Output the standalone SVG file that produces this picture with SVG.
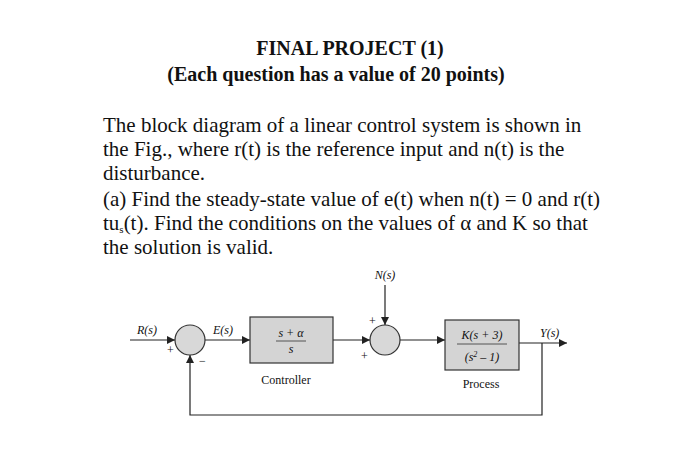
<svg xmlns="http://www.w3.org/2000/svg" width="700" height="467" viewBox="0 0 700 467">
<defs><marker id="a" viewBox="0 0 10 10" refX="10" refY="5" markerWidth="8" markerHeight="8" orient="auto" markerUnits="userSpaceOnUse"><path d="M0,0L10,5L0,10z" fill="#222"/></marker></defs>
<style>
.t{font-family:"Liberation Serif",serif;fill:#111}
.h{font-size:20px;font-weight:bold;text-anchor:middle}
.p{font-size:21px}
.s{font-size:12px}
.i{font-size:12px;font-style:italic}
.b{fill:#d4d4d4;stroke:#333;stroke-width:1.2}
.c{fill:#d8d8d8;stroke:#333;stroke-width:1.2}
.l{fill:none;stroke:#222;stroke-width:1.2}
</style>
<rect width="700" height="467" fill="#fff"/>
<text class="t h" x="350" y="55">FINAL PROJECT (1)</text>
<text class="t h" x="336" y="81">(Each question has a value of 20 points)</text>
<text class="t p" x="103" y="132">The block diagram of a linear control system is shown in</text>
<text class="t p" x="103" y="156">the Fig., where r(t) is the reference input and n(t) is the</text>
<text class="t p" x="103" y="180">disturbance.</text>
<text class="t p" x="103" y="206">(a) Find the steady-state value of e(t) when n(t) = 0 and r(t)</text>
<text class="t p" x="103" y="230">tu<tspan font-size="11" dy="3">s</tspan><tspan dy="-3">(t). Find the conditions on the values of α and K so that</tspan></text>
<text class="t p" x="103" y="254">the solution is valid.</text>
<g id="connectors">
<path class="l" d="M130,340H175" marker-end="url(#a)"/>
<path class="l" d="M205,340H250" marker-end="url(#a)"/>
<path class="l" d="M333,340H370" marker-end="url(#a)"/>
<path class="l" d="M385,285V325" marker-end="url(#a)"/>
<path class="l" d="M400,340H445" marker-end="url(#a)"/>
<path class="l" d="M519,343H567" marker-end="url(#a)"/>
<path class="l" d="M542,343V415H190V355" marker-end="url(#a)"/>
</g>
<g id="sum1"><circle class="c" cx="190" cy="340" r="15"/><text class="t s" x="167" y="354">+</text><text class="t s" x="199" y="365">−</text></g>
<g id="controller"><rect class="b" x="250" y="317" width="83" height="46"/><text class="t i" x="291" y="337" text-anchor="middle">s + α</text><line x1="276" y1="341" x2="306" y2="341" stroke="#333" stroke-width="0.8"/><text class="t i" x="291" y="353" text-anchor="middle">s</text><text class="t s" x="286" y="384" text-anchor="middle" font-size="13">Controller</text></g>
<g id="sum2"><circle class="c" cx="385" cy="340" r="15"/><text class="t s" x="369" y="325">+</text><text class="t s" x="361" y="360">+</text></g>
<g id="process"><rect class="b" x="445" y="320" width="74" height="50"/><text class="t i" x="482" y="339" text-anchor="middle">K(s + 3)</text><line x1="457" y1="344" x2="507" y2="344" stroke="#333" stroke-width="0.8"/><text class="t i" x="482" y="361" text-anchor="middle">(s<tspan font-size="8" dy="-4">2</tspan><tspan dy="4"> – 1)</tspan></text><text class="t s" x="481" y="388" text-anchor="middle" font-size="13">Process</text></g>
<g id="labels"><text class="t i" x="137" y="334">R(s)</text><text class="t i" x="213" y="334">E(s)</text><text class="t i" x="385" y="279" text-anchor="middle">N(s)</text><text class="t i" x="540" y="337">Y(s)</text></g>
</svg>
